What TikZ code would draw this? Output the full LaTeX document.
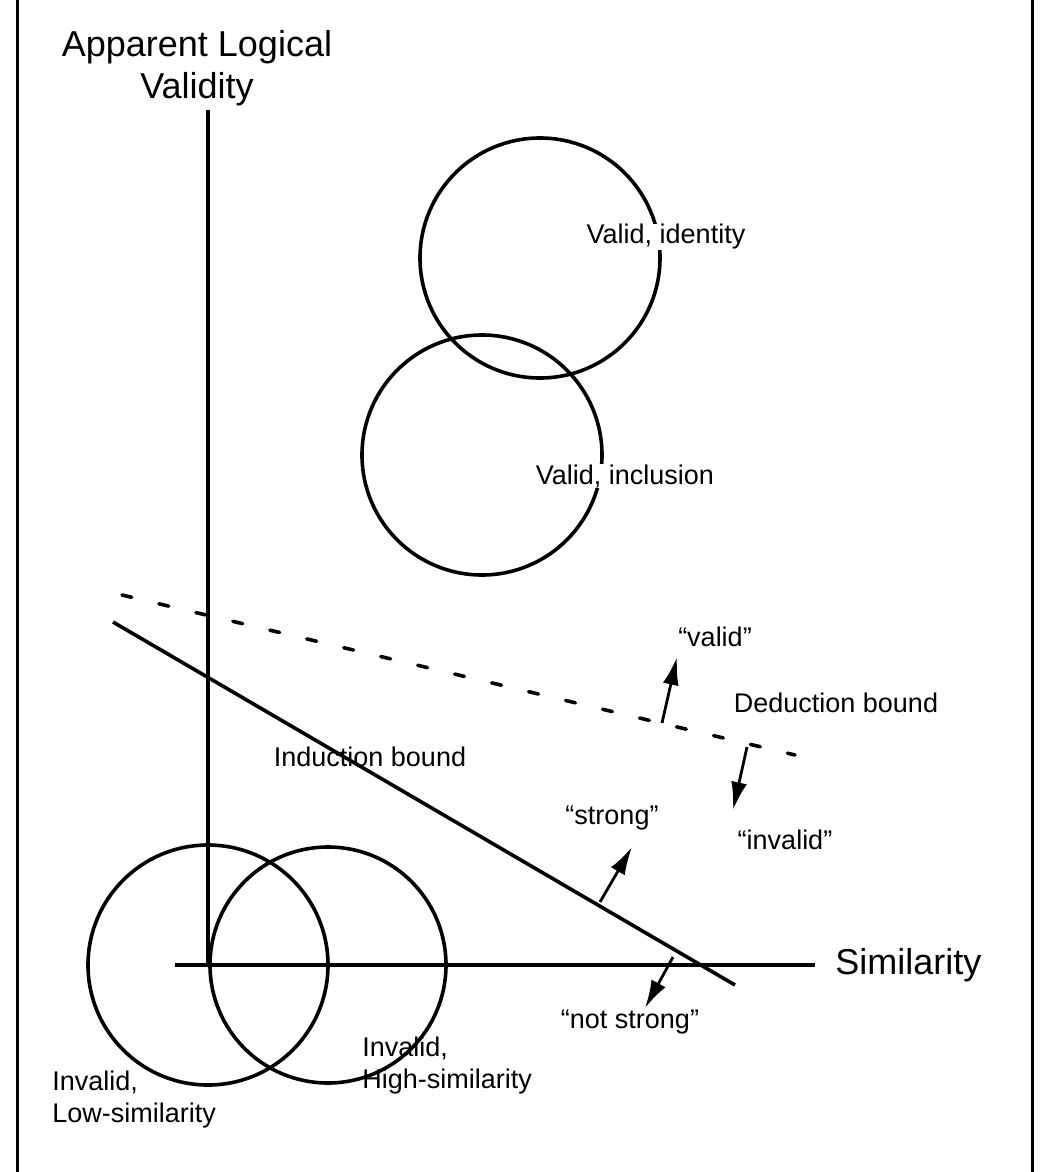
\documentclass[tikz,border=0pt]{standalone}
\usepackage{fontspec}
\setmainfont{Liberation Sans}
\usetikzlibrary{arrows.meta}
\begin{document}
\begin{tikzpicture}[x=0.5pt,y=-0.5pt,
  ln/.style={line width=1.8pt},
  arr/.style={line width=1.4pt,-{Latex[length=14pt,width=8pt]}},
  lab/.style={font=\fontsize{13.5}{16}\selectfont,inner sep=1pt},
  big/.style={font=\fontsize{18}{21}\selectfont,inner sep=1pt}]
\useasboundingbox (0,0) rectangle (1040,1172);
\draw[line width=1.5pt] (17,0) -- (17,1172) (1032,0) -- (1032,1172);
% axes
\coordinate (yt) at (208,110); \coordinate (yb) at (208,965);
\coordinate (xl) at (175,965); \coordinate (xr) at (815,965);
\draw[ln] (yt) -- (yb);
\draw[ln] (xl) -- (xr);
\node[big,align=center] (ytitle) at (197,68) {Apparent Logical\\Validity};
\node[big,anchor=west] (xtitle) at (833,965) {Similarity};
% circles
\draw[ln] (540,258) circle (120);
\draw[ln] (482,455) circle (120);
\draw[ln] (208,965) circle (120);
\draw[ln] (328,965) circle (118);
\node[lab,fill=white,inner sep=0pt] (vid) at (666,237) {Valid, identity};
\node[lab,fill=white,inner sep=0pt] (vinc) at (625,476) {Valid, inclusion};
\node[lab,align=left,anchor=west] (ilow) at (50,1100) {Invalid,\\Low-similarity};
\node[lab,align=left,anchor=west] (ihigh) at (360,1066) {Invalid,\\High-similarity};
% bounds
\coordinate (d1) at (122,595); \coordinate (d2) at (795,755);
\draw[ln,line cap=round,dash pattern=on 5pt off 14pt] (d1) -- (d2);
\coordinate (i1) at (113,622); \coordinate (i2) at (735,985);
\draw[ln] (i1) -- (i2);
\node[lab] (ded) at (836,703) {Deduction bound};
\node[lab] (ind) at (370,757) {Induction bound};
% arrows
\coordinate (a1) at (662,723); \coordinate (a2) at (677,657);
\draw[arr] (a1) -- (a2);
\coordinate (b1) at (747,747); \coordinate (b2) at (733,810);
\draw[arr] (b1) -- (b2);
\coordinate (c1) at (600,902); \coordinate (c2) at (632,847);
\draw[arr] (c1) -- (c2);
\coordinate (e1) at (673,957); \coordinate (e2) at (645,1008);
\draw[arr] (e1) -- (e2);
\node[lab] (lv) at (715,637) {``valid''};
\node[lab] (li) at (785,840) {``invalid''};
\node[lab] (ls) at (612,818) {``strong''};
\node[lab] (lns) at (630,1022) {``not strong''};
\end{tikzpicture}
\end{document}
